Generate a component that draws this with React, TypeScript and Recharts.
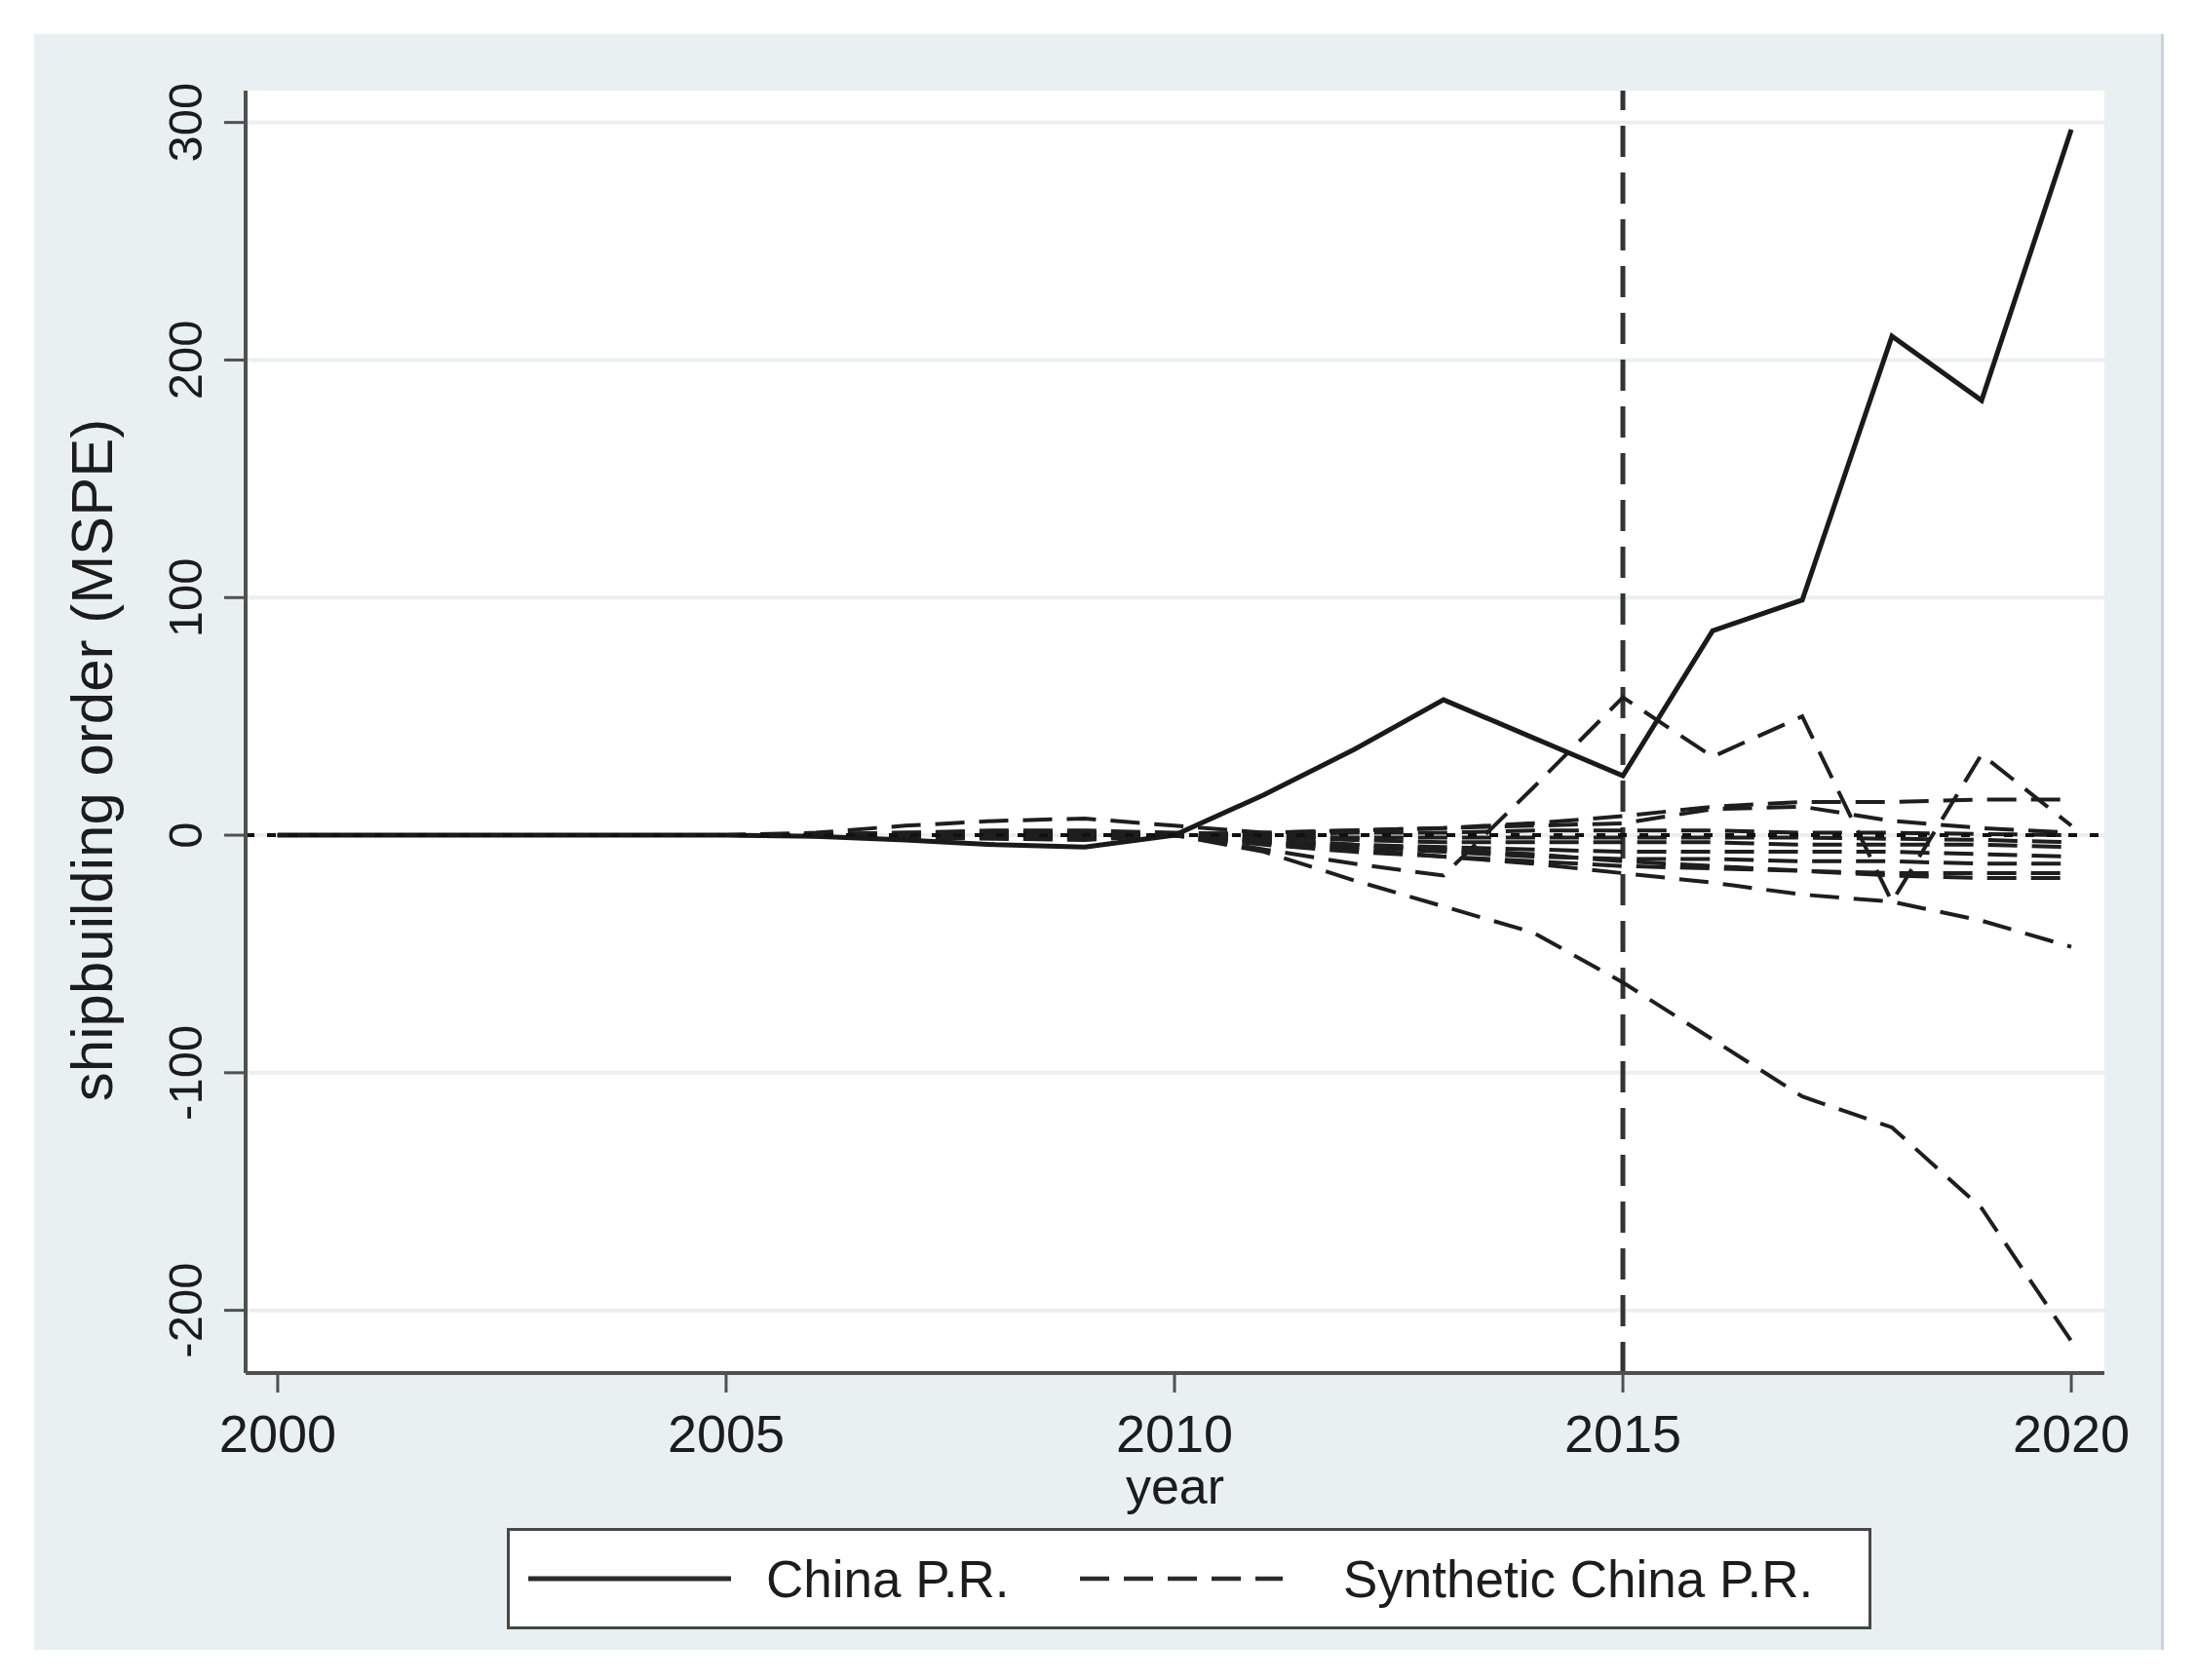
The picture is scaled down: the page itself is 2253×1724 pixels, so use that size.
import React from 'react';
import { LineChart, Line, XAxis, YAxis, CartesianGrid, ReferenceLine, Legend, Label } from 'recharts';

const years = [2000, 2001, 2002, 2003, 2004, 2005, 2006, 2007, 2008, 2009, 2010, 2011, 2012, 2013, 2014, 2015, 2016, 2017, 2018, 2019, 2020];
const chinaPR = [0, 0, 0, 0, 0, 0, -0.5, -2, -4, -5, 0, 17, 36, 57, 41, 25, 86, 99, 210, 183, 297];

const placeboA = [0, 0, 0, 0, 0, 0, 0.5, 1, 1, 1, 0, -7, -19, -30, -41, -62, -86, -110, -123, -157, -213];
const placeboB = [0, 0, 0, 0, 0, 0, 0, 0, 0.5, 0.5, 0, -3, -6, -9, -12, -16, -20, -25, -28, -36, -47];
const placeboC = [0, 0, 0, 0, 0, 0, 0, 0, 0, 0, 0, -6, -12, -17, 20, 58, 33, 50, -28, 34, 4];
const placeboD = [0, 0, 0, 0, 0, 0, 0, 0.5, 1, 1, 0, 1, 2, 3, 5, 8, 12, 14, 14, 15, 15];
const placeboE = [0, 0, 0, 0, 0, 0, 1, 4, 6, 7, 4, 1, 2, 3, 4, 5, 11, 12, 6, 3, 1];
const placeboF = [0, 0, 0, 0, 0, 0, 0.5, 1, 2, 2, 1, 0.5, 1, 1, 2, 2, 2, 1, 1, 0.5, 0];
const placeboG = [0, 0, 0, 0, 0, 0, 0, -0.5, -1, -1, 0, -0.5, -1, -1, -1, -1, -1, -1, -1.5, -2, -3];
const placeboH = [0, 0, 0, 0, 0, 0, -0.5, -1, -1.5, -2, 0, -1, -2, -3, -3, -3, -3, -4, -4, -4, -5];
const placeboI = [0, 0, 0, 0, 0, 0, 0, -0.5, -1, -1, 0, -2, -4, -5, -6, -7, -7, -7, -7, -8, -9];
const placeboJ = [0, 0, 0, 0, 0, 0, 0, 0, -0.5, -0.5, 0, -3, -5, -7, -9, -10, -10, -11, -11, -12, -12];
const placeboK = [0, 0, 0, 0, 0, 0, 0, 0, 0, 0, 0, -4, -7, -9, -11, -13, -14, -15, -16, -16, -16];
const placeboL = [0, 0, 0, 0, 0, 0, 0, 0, 0, 0, 0, -2, -4, -6, -8, -11, -13, -15, -17, -18, -18];

const placebos = [placeboA, placeboB, placeboC, placeboD, placeboE, placeboF, placeboG, placeboH, placeboI, placeboJ, placeboK, placeboL];

const xTicks = [2000, 2005, 2010, 2015, 2020];
const yTicks = [-200, -100, 0, 100, 200, 300];
const treatmentYear = 2015;

const seriesNames = { actual: 'China P.R.', synthetic: 'Synthetic China P.R.' };
const xTitle = 'year';
const yTitle = 'shipbuilding order (MSPE)';

const data = years.map((year, i) => {
  const row: Record<string, number> = { year, china: chinaPR[i] };
  placebos.forEach((p, k) => {
    row['p' + k] = p[i];
  });
  return row;
});

const FONT = '"Liberation Sans", Arial, Helvetica, sans-serif';
const TEXT = '#1c1c1c';
const AXIS = '#505050';

const XTick = (props: any) => {
  const { x, y, payload } = props;
  return (
    <text x={x} y={y + 61} textAnchor="middle" fontFamily={FONT} fontSize={54} fill={TEXT}>
      {payload.value}
    </text>
  );
};

const YTick = (props: any) => {
  const { x, y, payload } = props;
  const bx = x - 23;
  return (
    <text x={bx} y={y} transform={`rotate(-90, ${bx}, ${y})`} textAnchor="middle" fontFamily={FONT} fontSize={49} fill={TEXT}>
      {payload.value}
    </text>
  );
};

const XTitle = (props: any) => {
  const vb = props.viewBox;
  return (
    <text x={vb.x + vb.width / 2} y={vb.y + 134} textAnchor="middle" fontFamily={FONT} fontSize={52} fill={TEXT}>
      {xTitle}
    </text>
  );
};

const YTitle = (props: any) => {
  const vb = props.viewBox;
  const bx = vb.x - 37;
  const cy = vb.y + vb.height / 2 + 29;
  return (
    <text x={bx} y={cy} transform={`rotate(-90, ${bx}, ${cy})`} textAnchor="middle" fontFamily={FONT} fontSize={60} fill={TEXT}>
      {yTitle}
    </text>
  );
};

const LegendBox = () => (
  <div
    style={{
      position: 'absolute',
      left: 520,
      top: 1568,
      width: 1400,
      height: 104,
      boxSizing: 'border-box',
      border: '3px solid #484848',
      background: '#ffffff',
    }}
  >
    <svg width={1400} height={104} style={{ position: 'absolute', left: -3, top: -3, overflow: 'visible' }}>
      <line x1={22} x2={230} y1={52} y2={52} stroke="#2a2a2a" strokeWidth={5} />
      <text x={266} y={71} fontFamily={FONT} fontSize={53} fill={TEXT}>
        {seriesNames.actual}
      </text>
      <line x1={588} x2={796} y1={52} y2={52} stroke="#2a2a2a" strokeWidth={4.5} strokeDasharray="30 15" />
      <text x={858} y={71} fontFamily={FONT} fontSize={53} fill={TEXT}>
        {seriesNames.synthetic}
      </text>
    </svg>
  </div>
);

export default function App() {
  return (
    <div style={{ position: 'absolute', left: 0, top: 0, width: 2253, height: 1724, background: '#ffffff', overflow: 'hidden' }}>
      <div
        style={{
          position: 'absolute',
          left: 35,
          top: 35,
          width: 2182,
          height: 1658,
          background: '#e8f0f2',
          borderRight: '3px solid #c9d2d6',
        }}
      />
      <div style={{ position: 'absolute', left: 0, top: 0 }}>
        <LineChart width={2253} height={1724} data={data} margin={{ top: 93, right: 94, bottom: 215, left: 152 }}>
          <CartesianGrid vertical={false} fill="#ffffff" stroke="#eceff0" strokeWidth={4} horizontalValues={yTicks} />
          <XAxis
            dataKey="year"
            type="number"
            domain={[1999.642, 2020.369]}
            ticks={xTicks}
            allowDataOverflow
            height={100}
            tickSize={20}
            tickMargin={0}
            axisLine={{ stroke: AXIS, strokeWidth: 4 }}
            tickLine={{ stroke: AXIS, strokeWidth: 3 }}
            tick={<XTick />}
            interval={0}
          >
            <Label content={<XTitle />} />
          </XAxis>
          <YAxis
            type="number"
            domain={[-226.4, 313.4]}
            ticks={yTicks}
            allowDataOverflow
            width={100}
            tickSize={22}
            tickMargin={0}
            axisLine={{ stroke: AXIS, strokeWidth: 4 }}
            tickLine={{ stroke: AXIS, strokeWidth: 3 }}
            tick={<YTick />}
            interval={0}
          >
            <Label content={<YTitle />} />
          </YAxis>
          <ReferenceLine x={treatmentYear} stroke="#333333" strokeWidth={5} strokeDasharray="32 16" ifOverflow="visible" />
          {placebos.map((_, k) => (
            <Line
              key={'p' + k}
              dataKey={'p' + k}
              name={k === 0 ? seriesNames.synthetic : 'placebo ' + k}
              type="linear"
              stroke="#1e1e1e"
              strokeWidth={4}
              strokeDasharray="30 15"
              dot={false}
              activeDot={false}
              isAnimationActive={false}
              legendType="none"
            />
          ))}
          <Line
            dataKey="china"
            name={seriesNames.actual}
            type="linear"
            stroke="#1a1a1a"
            strokeWidth={5}
            dot={false}
            activeDot={false}
            isAnimationActive={false}
          />
          <ReferenceLine y={0} stroke="#111111" strokeWidth={4} strokeDasharray="9 13" />
          <Legend
            content={<LegendBox />}
            wrapperStyle={{ position: 'absolute', left: 0, top: 0, width: 0, height: 0, overflow: 'visible' }}
          />
        </LineChart>
      </div>
    </div>
  );
}
